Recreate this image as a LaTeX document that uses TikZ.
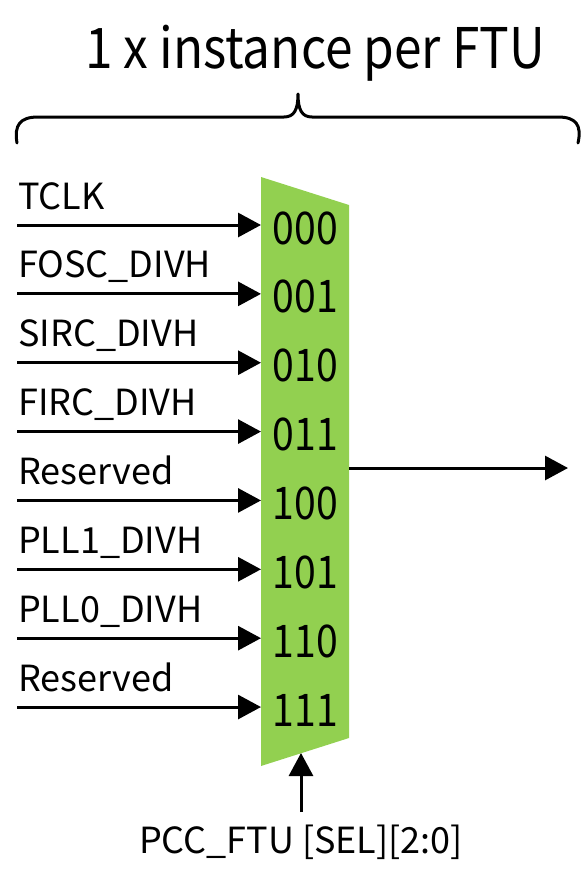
\documentclass[tikz,border=0pt]{standalone}
\usepackage{fontspec}
\usepackage{graphicx}
\setmainfont{Noto Sans CJK SC}
\usetikzlibrary{arrows.meta}
\definecolor{muxgreen}{RGB}{146,208,80}
\tikzset{
  sig/.style={line width=3pt,-{Triangle[length=23pt,width=24pt]}},
  lbl/.style={anchor=base west,inner sep=0pt,font=\fontsize{36}{40}\selectfont},
  port/.style={anchor=base,inner sep=0pt,font=\fontsize{45}{50}\selectfont},
}
\begin{document}
\begin{tikzpicture}[x=1pt,y=-1pt]
\useasboundingbox (0,0) rectangle (581,871);
% title
\node[anchor=base,inner sep=0pt,font=\fontsize{56}{60}\selectfont] (title) at (315,68) {\scalebox{0.885}[1]{1 x instance per FTU}};
% brace
\draw[line width=3pt,line cap=round,line join=round]
  (17,143) .. controls (14,125) and (20,117) .. (38,117) -- (284,117)
  .. controls (294,117) and (298,110) .. (298,94)
  .. controls (298,110) and (302,117) .. (312,117) -- (558,117)
  .. controls (576,117) and (582,125) .. (578,143);
% mux
\coordinate (mTL) at (261,177);
\coordinate (mTR) at (349,205);
\coordinate (mBR) at (349,738);
\coordinate (mBL) at (261,766);
\fill[muxgreen] (mTL) -- (mTR) -- (mBR) -- (mBL) -- cycle;
% inputs
\foreach \i/\t/\p in {0/TCLK/000,1/FOSC\_DIVH/001,2/SIRC\_DIVH/010,3/FIRC\_DIVH/011,4/Reserved/100,5/PLL1\_DIVH/101,6/PLL0\_DIVH/110,7/Reserved/111}{
  \pgfmathsetmacro{\yy}{225+68.86*\i}
  \coordinate (s\i) at (17,\yy);
  \coordinate (in\i) at (261,\yy);
  \node[lbl] (l\i) at (18,\yy-16) {\t};
  \node[port] (p\i) at (305.5,\yy+19) {\scalebox{0.87}[1]{\p}};
  \draw[sig] (s\i) -- (in\i);
}
% output
\coordinate (out) at (349,468);
\coordinate (outend) at (568,468);
\draw[sig] (out) -- (outend);
% select
\coordinate (selin) at (301,753);
\node[anchor=base,inner sep=0pt,font=\fontsize{36}{40}\selectfont] (sel) at (301,853) {PCC\_FTU [SEL][2:0]};
\coordinate (selstart) at (301,812);
\draw[sig] (selstart) -- (selin);
\end{tikzpicture}
\end{document}
